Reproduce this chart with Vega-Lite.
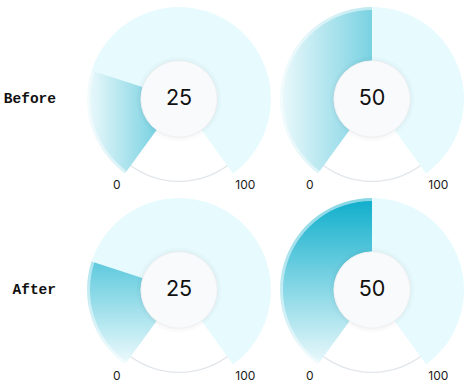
{
  "$schema": "https://vega.github.io/schema/vega-lite/v6.json",
  "padding": {"left": 3, "top": 4, "right": 0, "bottom": 0},
  "background": "white",
  "data": {"values": [
    {"row": "Before", "col": "A", "value": 25, "min": 0, "max": 100},
    {"row": "Before", "col": "B", "value": 50, "min": 0, "max": 100},
    {"row": "After", "col": "A", "value": 25, "min": 0, "max": 100},
    {"row": "After", "col": "B", "value": 50, "min": 0, "max": 100}
  ]},
  "facet": {
    "row": {"field": "row", "type": "nominal", "sort": ["Before", "After"], "title": null,
      "header": {"labelAngle": 0, "labelAlign": "left", "labelBaseline": "middle", "labelFont": "Liberation Mono", "labelFontWeight": "bold", "labelFontSize": 14.5, "labelColor": "#111", "labelPadding": 28, "labelOffset": 2}},
    "column": {"field": "col", "type": "nominal", "title": null, "header": null}
  },
  "spacing": {"row": 1, "column": 3},
  "spec": {
    "width": 190,
    "height": 190,
    "layer": [
      {"mark": {"type": "point", "shape": "circle", "size": 27172, "filled": true, "fill": "white", "stroke": "#e2e6ea", "strokeWidth": 1.2, "opacity": 1}, "encoding": {}},
      {"mark": {"type": "arc", "radius": 92, "innerRadius": 38, "fill": "#e7fbfe"},
       "encoding": {"theta": {"field": "value", "type": "quantitative", "stack": null, "scale": {"domain": [0, 100], "range": [-2.5133, 2.5133]}}, "theta2": {"field": "max"}}},
      {"transform": [{"filter": "datum.row == 'Before'"}],
       "mark": {"type": "arc", "radius": 92, "innerRadius": 38, "opacity": 0.5,
         "fill": {"gradient": "linear", "x1": 0, "y1": 0, "x2": 1, "y2": 0, "stops": [{"offset": 0, "color": "#e8f8fb"}, {"offset": 1, "color": "#7ad2e2"}]}},
       "encoding": {"theta": {"field": "min", "type": "quantitative", "stack": null, "scale": {"domain": [0, 100], "range": [-2.5133, 2.5133]}}, "theta2": {"field": "value"}}},
      {"transform": [{"filter": "datum.row == 'Before'"}],
       "mark": {"type": "arc", "radius": 89, "innerRadius": 38,
         "fill": {"gradient": "linear", "x1": 0, "y1": 0, "x2": 1, "y2": 0, "stops": [{"offset": 0, "color": "#e8f8fb"}, {"offset": 1, "color": "#7ad2e2"}]}},
       "encoding": {"theta": {"field": "min", "type": "quantitative", "stack": null, "scale": {"domain": [0, 100], "range": [-2.5133, 2.5133]}}, "theta2": {"field": "value"}}},
      {"transform": [{"filter": "datum.row == 'After' && datum.value == 25"}],
       "mark": {"type": "arc", "radius": 92, "innerRadius": 38, "opacity": 0.5,
         "fill": {"gradient": "linear", "x1": 0, "y1": 0, "x2": 0, "y2": 1, "stops": [{"offset": 0, "color": "#5fcadd"}, {"offset": 1, "color": "#eaf9fc"}]}},
       "encoding": {"theta": {"field": "min", "type": "quantitative", "stack": null, "scale": {"domain": [0, 100], "range": [-2.5133, 2.5133]}}, "theta2": {"field": "value"}}},
      {"transform": [{"filter": "datum.row == 'After' && datum.value == 25"}],
       "mark": {"type": "arc", "radius": 89, "innerRadius": 38,
         "fill": {"gradient": "linear", "x1": 0, "y1": 0, "x2": 0, "y2": 1, "stops": [{"offset": 0, "color": "#5fcadd"}, {"offset": 1, "color": "#eaf9fc"}]}},
       "encoding": {"theta": {"field": "min", "type": "quantitative", "stack": null, "scale": {"domain": [0, 100], "range": [-2.5133, 2.5133]}}, "theta2": {"field": "value"}}},
      {"transform": [{"filter": "datum.row == 'After' && datum.value == 50"}],
       "mark": {"type": "arc", "radius": 92, "innerRadius": 38, "opacity": 0.5,
         "fill": {"gradient": "linear", "x1": 0, "y1": 0, "x2": 0, "y2": 1, "stops": [{"offset": 0, "color": "#12afcc"}, {"offset": 1, "color": "#e8f8fb"}]}},
       "encoding": {"theta": {"field": "min", "type": "quantitative", "stack": null, "scale": {"domain": [0, 100], "range": [-2.5133, 2.5133]}}, "theta2": {"field": "value"}}},
      {"transform": [{"filter": "datum.row == 'After' && datum.value == 50"}],
       "mark": {"type": "arc", "radius": 89, "innerRadius": 38,
         "fill": {"gradient": "linear", "x1": 0, "y1": 0, "x2": 0, "y2": 1, "stops": [{"offset": 0, "color": "#12afcc"}, {"offset": 1, "color": "#e8f8fb"}]}},
       "encoding": {"theta": {"field": "min", "type": "quantitative", "stack": null, "scale": {"domain": [0, 100], "range": [-2.5133, 2.5133]}}, "theta2": {"field": "value"}}},
      {"mark": {"type": "point", "shape": "circle", "size": 7238, "filled": true, "fill": "#000000", "opacity": 0.015}, "encoding": {}},
      {"mark": {"type": "point", "shape": "circle", "size": 6362, "filled": true, "fill": "#000000", "opacity": 0.025}, "encoding": {}},
      {"mark": {"type": "point", "shape": "circle", "size": 5810, "filled": true, "fill": "#f9fafb", "stroke": "#f0f1f4", "strokeWidth": 1, "opacity": 1}, "encoding": {}},
      {"mark": {"type": "text", "font": "Inter", "fontSize": 21.5, "fill": "#111111"},
       "encoding": {"text": {"field": "value", "type": "quantitative"}}},
      {"mark": {"type": "text", "font": "Inter", "fontSize": 12, "fill": "#1a1a1a", "radius": 106},
       "encoding": {"theta": {"field": "min", "type": "quantitative", "stack": null, "scale": {"domain": [0, 100], "range": [-2.5133, 2.5133]}}, "text": {"field": "min", "type": "quantitative"}}},
      {"mark": {"type": "text", "font": "Inter", "fontSize": 12, "fill": "#1a1a1a", "radius": 106, "dx": 4},
       "encoding": {"theta": {"field": "max", "type": "quantitative", "stack": null, "scale": {"domain": [0, 100], "range": [-2.5133, 2.5133]}}, "text": {"field": "max", "type": "quantitative"}}}
    ]
  },
  "config": {"view": {"stroke": null}}
}
